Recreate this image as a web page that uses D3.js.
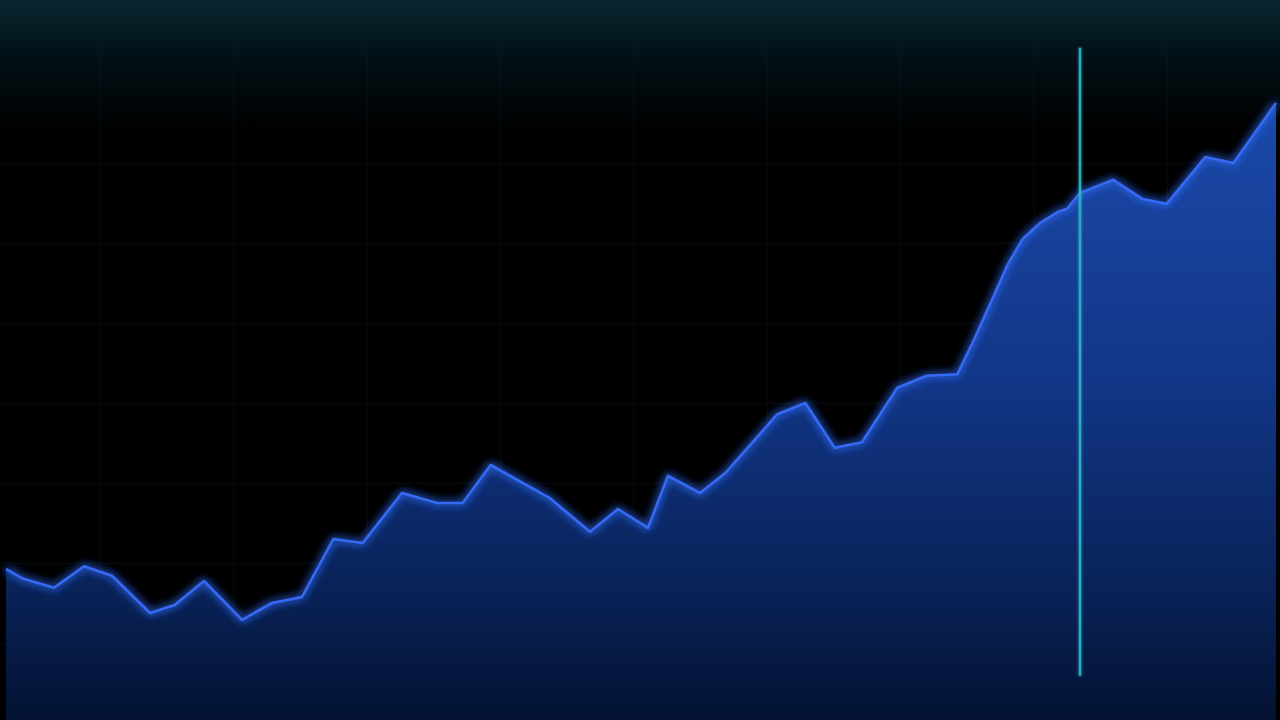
<!DOCTYPE html>
<html>
<head>
<meta charset="utf-8">
<script src="https://cdn.jsdelivr.net/npm/d3@7"></script>
<style>
  html, body { margin: 0; padding: 0; background: #000; overflow: hidden; }
  svg { display: block; }
</style>
</head>
<body>
<svg id="chart" width="1280" height="720"></svg>
<script>
// ---- data ----
const days = [-7.05, -5.85, -3.45, -1.2, 0.9, 3.75, 5.6, 7.8, 10.65, 12.9, 15.15, 17.5, 19.7, 22.65, 25.3, 27.2, 29.3, 33.75, 36.75, 38.85, 41.1, 42.6, 45.0, 46.9, 50.8, 52.9, 55.1, 57.15, 59.8, 62.0, 64.3, 65.6, 66.9, 68.1, 69.2, 70.5, 71.85, 72.5, 73.5, 76.0, 78.2, 80.0, 82.9, 85.0, 88.2];
const values = [19.25, 18.1, 16.9, 19.6, 18.4, 13.75, 14.75, 17.75, 12.9, 15.0, 15.75, 23.0, 22.5, 28.75, 27.5, 27.5, 32.25, 28.1, 23.9, 26.75, 24.4, 30.9, 28.75, 31.25, 38.6, 40.0, 34.4, 35.1, 41.9, 43.4, 43.6, 48.1, 52.9, 57.4, 60.5, 62.5, 63.9, 64.25, 66.25, 67.9, 65.5, 64.9, 70.75, 70.0, 77.5];
const xGridTicks = [0, 10, 20, 30, 40, 50, 60, 70, 80];
const yGridTicks = [10, 20, 30, 40, 50, 60, 70, 80];
const cursorDay = 73.5;
const cursorRange = [5.9, 84.4];

// ---- layout ----
const W = 1280, H = 720;
const svg = d3.select("#chart");

const x = d3.scaleLinear().domain([-7.5, 88.5]).range([0, W]);
const y = d3.scaleLinear().domain([0, 90]).range([723, 3]);

const defs = svg.append("defs");

const bgGrad = defs.append("linearGradient").attr("id", "bgGrad")
  .attr("x1", 0).attr("y1", 0).attr("x2", 0).attr("y2", 1);
bgGrad.append("stop").attr("offset", "0%").attr("stop-color", "#08262f");
bgGrad.append("stop").attr("offset", "45%").attr("stop-color", "#021016");
bgGrad.append("stop").attr("offset", "100%").attr("stop-color", "#000000");

const areaGrad = defs.append("linearGradient").attr("id", "areaGrad")
  .attr("gradientUnits", "userSpaceOnUse")
  .attr("x1", 0).attr("y1", 100).attr("x2", 0).attr("y2", 720);
areaGrad.append("stop").attr("offset", "0%").attr("stop-color", "#1b4aab");
areaGrad.append("stop").attr("offset", "45%").attr("stop-color", "#123687");
areaGrad.append("stop").attr("offset", "75%").attr("stop-color", "#0a255e");
areaGrad.append("stop").attr("offset", "100%").attr("stop-color", "#031232");

const glow = defs.append("filter").attr("id", "glow")
  .attr("filterUnits", "userSpaceOnUse")
  .attr("x", 0).attr("y", 0).attr("width", W).attr("height", H);
glow.append("feGaussianBlur").attr("in", "SourceGraphic").attr("stdDeviation", 4).attr("result", "blur");
const merge = glow.append("feMerge");
merge.append("feMergeNode").attr("in", "blur");
merge.append("feMergeNode").attr("in", "blur");
merge.append("feMergeNode").attr("in", "SourceGraphic");

const cglow = defs.append("filter").attr("id", "cglow")
  .attr("filterUnits", "userSpaceOnUse")
  .attr("x", 0).attr("y", 0).attr("width", W).attr("height", H);
cglow.append("feGaussianBlur").attr("in", "SourceGraphic").attr("stdDeviation", 1.8).attr("result", "blur");
const cm = cglow.append("feMerge");
cm.append("feMergeNode").attr("in", "blur");
cm.append("feMergeNode").attr("in", "SourceGraphic");

// background
svg.append("rect").attr("width", W).attr("height", H).attr("fill", "#000");
svg.append("rect").attr("width", W).attr("height", 130).attr("fill", "url(#bgGrad)");

// grid via axes
const gx = svg.append("g").attr("transform", `translate(0,${H})`)
  .call(d3.axisBottom(x).tickValues(xGridTicks).tickSize(-H).tickFormat(""));
const gy = svg.append("g")
  .call(d3.axisLeft(y).tickValues(yGridTicks).tickSize(-W).tickFormat(""));
[gx, gy].forEach(g => {
  g.select(".domain").remove();
  g.selectAll(".tick line").attr("stroke", "#0e2126").attr("stroke-opacity", 0.3).attr("stroke-width", 1.5);
});

const data = days.map((d, i) => ({ d, v: values[i] }));

// area
const area = d3.area().x(p => x(p.d)).y0(H).y1(p => y(p.v));
svg.append("path").datum(data).attr("d", area).attr("fill", "url(#areaGrad)");

// glowing line
const line = d3.line().x(p => x(p.d)).y(p => y(p.v));
svg.append("path").datum(data).attr("d", line)
  .attr("fill", "none").attr("stroke", "#356af5").attr("stroke-width", 2.6)
  .attr("stroke-linejoin", "round").attr("filter", "url(#glow)");

// cursor line
svg.append("line")
  .attr("x1", x(cursorDay)).attr("x2", x(cursorDay))
  .attr("y1", y(cursorRange[1])).attr("y2", y(cursorRange[0]))
  .attr("stroke", "#29aec4").attr("stroke-width", 2.2).attr("filter", "url(#cglow)");
</script>
</body>
</html>
